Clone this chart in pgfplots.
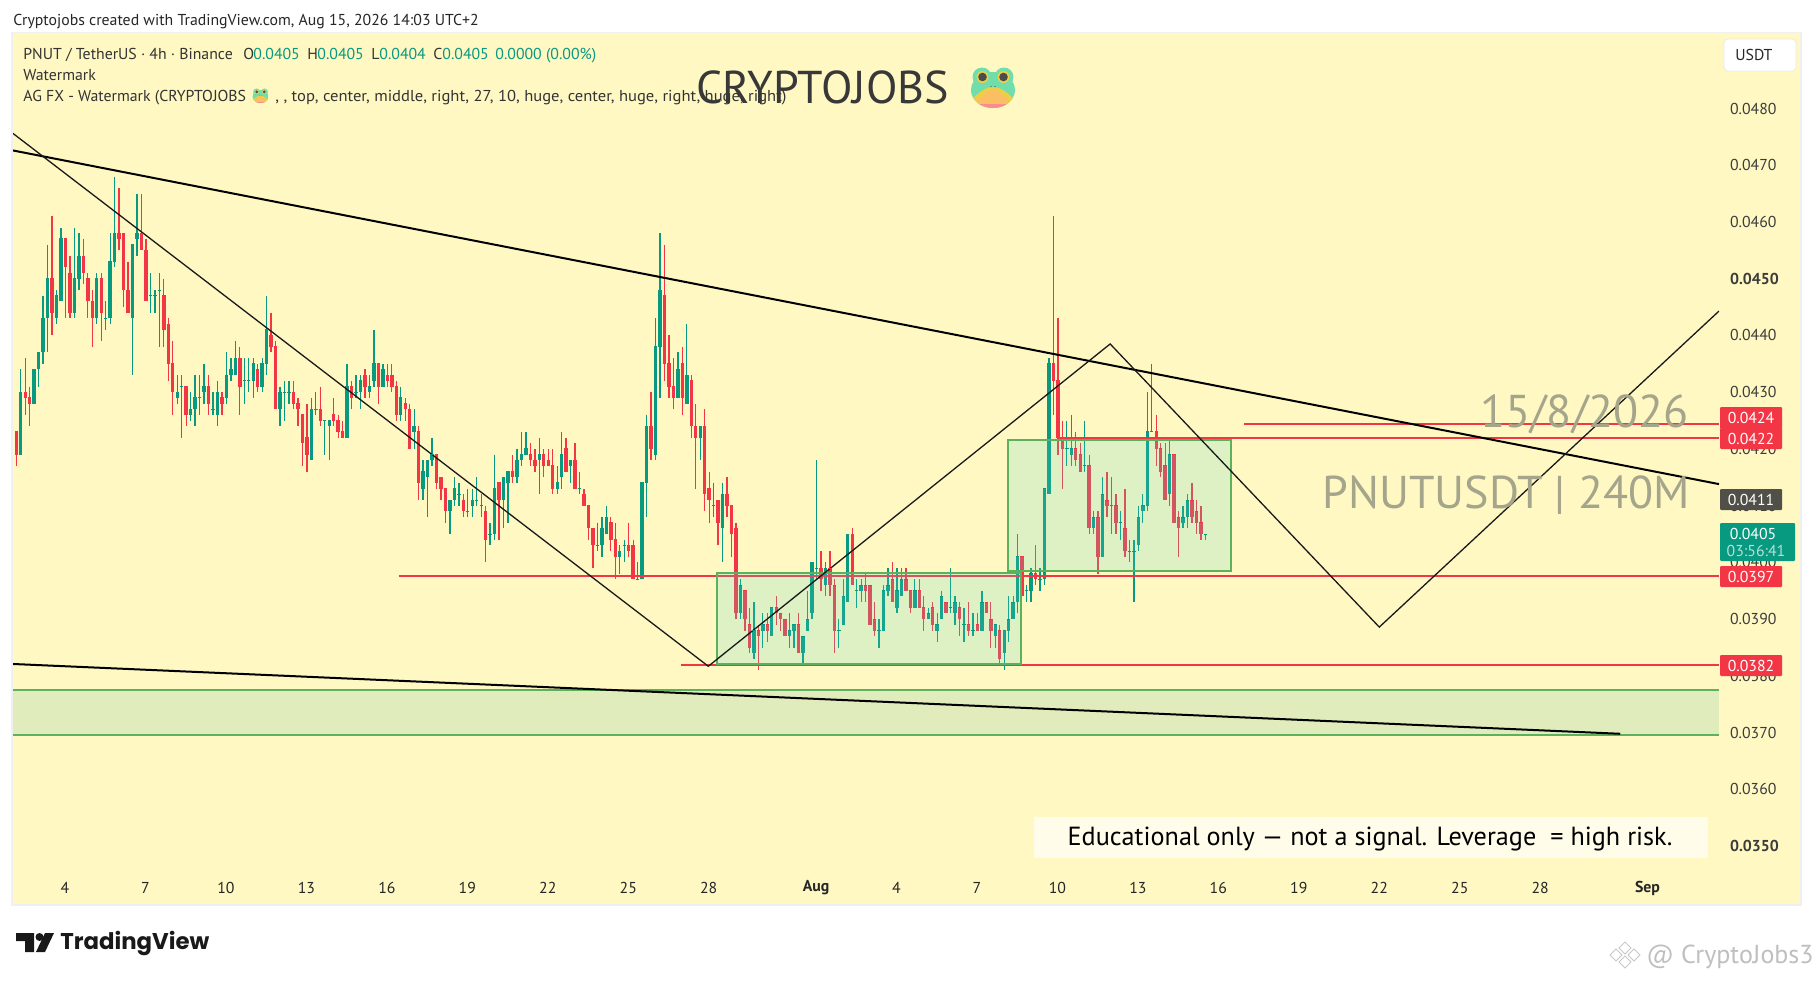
\documentclass[border=0pt]{standalone}
\usepackage{fontspec}
\setmainfont{PT Sans}
\newfontfamily\logofont{Poppins}
\usepackage{pgfplots}
\usepackage{pgfplotstable}
\pgfplotsset{compat=1.18}

\definecolor{bgyellow}{RGB}{255,248,195}
\definecolor{tvgreen}{RGB}{8,153,129}
\definecolor{tvred}{RGB}{242,54,69}
\definecolor{boxline}{RGB}{92,178,92}
\definecolor{boxfill}{RGB}{90,213,200}
\definecolor{zonefill}{RGB}{224,236,188}
\definecolor{wmgray}{RGB}{165,165,140}
\definecolor{ticktext}{RGB}{60,60,60}
\definecolor{lasttag}{RGB}{80,80,72}
\definecolor{frogmint}{RGB}{112,222,170}
\definecolor{frogyellow}{RGB}{240,205,70}
\definecolor{frogorange}{RGB}{250,190,100}
\definecolor{frogpink}{RGB}{250,140,140}

% bar  open  high  low  close, one row per 4h candle
\pgfplotstableread{
i O H L C
2 0.0419 0.0434 0.0419 0.0430
5 0.0428 0.0434 0.0428 0.0434
6 0.0434 0.0437 0.0431 0.0437
7 0.0437 0.0447 0.0435 0.0443
8 0.0443 0.0456 0.0437 0.0450
10 0.0443 0.0448 0.0442 0.0447
11 0.0446 0.0459 0.0446 0.0457
14 0.0444 0.0459 0.0443 0.0450
15 0.0450 0.0458 0.0448 0.0454
19 0.0443 0.0451 0.0442 0.0450
21 0.0443 0.0446 0.0441 0.0443
22 0.0443 0.0458 0.0442 0.0453
23 0.0453 0.0468 0.0452 0.0458
27 0.0443 0.0456 0.0433 0.0456
28 0.0457 0.0465 0.0454 0.0458
31 0.0447 0.0451 0.0444 0.0447
32 0.0447 0.0448 0.0444 0.0447
33 0.0448 0.0451 0.0438 0.0448
37 0.0429 0.0433 0.0428 0.0430
38 0.0431 0.0433 0.0422 0.0431
40 0.0426 0.0430 0.0425 0.0427
41 0.0427 0.0433 0.0424 0.0429
42 0.0429 0.0433 0.0426 0.0429
43 0.0430 0.0435 0.0428 0.0431
45 0.0427 0.0430 0.0426 0.0427
46 0.0426 0.0432 0.0424 0.0430
48 0.0429 0.0437 0.0428 0.0433
49 0.0433 0.0436 0.0432 0.0434
50 0.0433 0.0439 0.0433 0.0436
52 0.0432 0.0436 0.0428 0.0432
53 0.0432 0.0436 0.0430 0.0432
54 0.0432 0.0436 0.0429 0.0435
56 0.0431 0.0436 0.0430 0.0435
57 0.0435 0.0447 0.0433 0.0441
60 0.0427 0.0431 0.0424 0.0430
61 0.0430 0.0432 0.0425 0.0430
62 0.0430 0.0432 0.0428 0.0430
67 0.0418 0.0429 0.0418 0.0427
68 0.0427 0.0430 0.0426 0.0427
70 0.0425 0.0425 0.0419 0.0425
71 0.0424 0.0425 0.0418 0.0425
75 0.0422 0.0435 0.0422 0.0431
77 0.0430 0.0433 0.0429 0.0430
78 0.0430 0.0433 0.0427 0.0432
80 0.0430 0.0433 0.0429 0.0431
81 0.0432 0.0441 0.0431 0.0435
83 0.0431 0.0435 0.0431 0.0434
87 0.0426 0.0431 0.0425 0.0429
90 0.0423 0.0427 0.0420 0.0424
92 0.0413 0.0418 0.0411 0.0416
93 0.0415 0.0418 0.0408 0.0418
94 0.0418 0.0422 0.0417 0.0419
98 0.0409 0.0411 0.0405 0.0411
99 0.0411 0.0415 0.0410 0.0413
100 0.0412 0.0414 0.0410 0.0412
102 0.0409 0.0413 0.0408 0.0409
103 0.0410 0.0413 0.0408 0.0411
104 0.0411 0.0415 0.0410 0.0411
105 0.0410 0.0412 0.0408 0.0410
107 0.0405 0.0407 0.0403 0.0405
108 0.0405 0.0419 0.0404 0.0413
110 0.0411 0.0415 0.0406 0.0415
111 0.0414 0.0416 0.0407 0.0416
113 0.0415 0.0420 0.0414 0.0418
114 0.0418 0.0423 0.0417 0.0419
115 0.0419 0.0423 0.0419 0.0420
118 0.0418 0.0422 0.0412 0.0419
122 0.0413 0.0417 0.0412 0.0414
123 0.0415 0.0423 0.0413 0.0419
125 0.0417 0.0418 0.0414 0.0418
127 0.0413 0.0416 0.0412 0.0413
131 0.0403 0.0407 0.0402 0.0403
132 0.0403 0.0408 0.0401 0.0406
133 0.0405 0.0410 0.0405 0.0408
136 0.0401 0.0403 0.0398 0.0402
137 0.0403 0.0404 0.0400 0.0403
140 0.0397 0.0400 0.0397 0.0397
141 0.0397 0.0414 0.0397 0.0414
142 0.0414 0.0426 0.0408 0.0424
144 0.0419 0.0443 0.0418 0.0438
145 0.0438 0.0458 0.0429 0.0448
149 0.0429 0.0437 0.0429 0.0434
151 0.0428 0.0442 0.0428 0.0433
154 0.0422 0.0424 0.0418 0.0424
157 0.0410 0.0414 0.0408 0.0410
159 0.0406 0.0414 0.0400 0.0412
163 0.0391 0.0397 0.0390 0.0396
166 0.0384 0.0393 0.0383 0.0388
168 0.0388 0.0391 0.0385 0.0389
170 0.0387 0.0392 0.0387 0.0392
174 0.0387 0.0391 0.0385 0.0388
175 0.0388 0.0389 0.0385 0.0389
177 0.0384 0.0387 0.0382 0.0387
178 0.0388 0.0395 0.0388 0.0390
179 0.0391 0.0400 0.0390 0.0400
180 0.0399 0.0418 0.0397 0.0399
182 0.0396 0.0400 0.0394 0.0399
185 0.0388 0.0390 0.0385 0.0388
186 0.0389 0.0397 0.0389 0.0394
187 0.0393 0.0405 0.0393 0.0405
189 0.0395 0.0397 0.0392 0.0395
190 0.0395 0.0397 0.0393 0.0396
194 0.0388 0.0390 0.0385 0.0388
195 0.0388 0.0396 0.0388 0.0395
196 0.0395 0.0399 0.0394 0.0396
198 0.0392 0.0399 0.0391 0.0395
199 0.0394 0.0399 0.0394 0.0397
202 0.0392 0.0397 0.0392 0.0395
205 0.0390 0.0392 0.0390 0.0391
207 0.0388 0.0391 0.0386 0.0389
208 0.0390 0.0395 0.0390 0.0394
210 0.0392 0.0399 0.0391 0.0392
211 0.0391 0.0394 0.0389 0.0393
213 0.0389 0.0392 0.0386 0.0389
215 0.0388 0.0391 0.0387 0.0388
217 0.0388 0.0395 0.0388 0.0393
220 0.0387 0.0389 0.0385 0.0389
222 0.0384 0.0388 0.0381 0.0388
223 0.0388 0.0394 0.0386 0.0390
224 0.0390 0.0394 0.0390 0.0393
225 0.0393 0.0405 0.0391 0.0401
227 0.0395 0.0396 0.0393 0.0395
228 0.0395 0.0399 0.0393 0.0398
230 0.0397 0.0399 0.0395 0.0397
231 0.0397 0.0413 0.0396 0.0413
232 0.0412 0.0436 0.0412 0.0435
236 0.0420 0.0425 0.0417 0.0420
237 0.0419 0.0426 0.0417 0.0420
240 0.0417 0.0425 0.0416 0.0417
242 0.0406 0.0409 0.0405 0.0408
244 0.0401 0.0415 0.0401 0.0412
246 0.0410 0.0415 0.0405 0.0410
248 0.0407 0.0409 0.0404 0.0407
250 0.0402 0.0404 0.0400 0.0402
251 0.0402 0.0404 0.0393 0.0402
252 0.0403 0.0410 0.0402 0.0408
253 0.0409 0.0412 0.0407 0.0410
254 0.0410 0.0430 0.0409 0.0423
255 0.0423 0.0435 0.0423 0.0423
259 0.0412 0.0422 0.0410 0.0419
262 0.0407 0.0410 0.0406 0.0408
263 0.0408 0.0412 0.0406 0.0411
267 0.0405 0.0405 0.0404 0.0405
}\upbars

\pgfplotstableread{
i O H L C
1 0.0423 0.0423 0.0417 0.0419
3 0.0430 0.0436 0.0426 0.0429
4 0.0429 0.0431 0.0424 0.0428
9 0.0450 0.0461 0.0440 0.0444
12 0.0457 0.0457 0.0443 0.0452
13 0.0451 0.0454 0.0443 0.0444
16 0.0454 0.0457 0.0449 0.0451
17 0.0450 0.0451 0.0443 0.0446
18 0.0446 0.0448 0.0438 0.0443
20 0.0450 0.0451 0.0439 0.0444
24 0.0458 0.0466 0.0455 0.0457
25 0.0458 0.0458 0.0445 0.0448
26 0.0448 0.0453 0.0444 0.0444
29 0.0458 0.0465 0.0455 0.0455
30 0.0455 0.0457 0.0446 0.0446
34 0.0447 0.0450 0.0438 0.0441
35 0.0442 0.0443 0.0432 0.0435
36 0.0435 0.0439 0.0426 0.0430
39 0.0431 0.0431 0.0424 0.0426
44 0.0431 0.0433 0.0426 0.0428
47 0.0429 0.0430 0.0426 0.0428
51 0.0436 0.0438 0.0426 0.0431
55 0.0434 0.0435 0.0430 0.0431
58 0.0440 0.0444 0.0437 0.0438
59 0.0438 0.0439 0.0427 0.0427
63 0.0430 0.0432 0.0427 0.0428
64 0.0428 0.0429 0.0424 0.0427
65 0.0426 0.0426 0.0417 0.0421
66 0.0422 0.0428 0.0416 0.0419
69 0.0427 0.0431 0.0424 0.0425
72 0.0426 0.0429 0.0424 0.0425
73 0.0425 0.0426 0.0422 0.0423
74 0.0423 0.0425 0.0422 0.0422
76 0.0431 0.0432 0.0427 0.0429
79 0.0433 0.0434 0.0429 0.0431
82 0.0435 0.0435 0.0428 0.0431
84 0.0433 0.0435 0.0431 0.0432
85 0.0433 0.0435 0.0430 0.0431
86 0.0431 0.0432 0.0425 0.0426
88 0.0428 0.0429 0.0425 0.0427
89 0.0427 0.0428 0.0420 0.0420
91 0.0423 0.0424 0.0411 0.0414
95 0.0419 0.0419 0.0413 0.0414
96 0.0415 0.0415 0.0411 0.0413
97 0.0413 0.0413 0.0407 0.0409
101 0.0411 0.0412 0.0408 0.0409
106 0.0409 0.0410 0.0400 0.0404
109 0.0414 0.0414 0.0404 0.0411
112 0.0416 0.0419 0.0414 0.0415
116 0.0419 0.0421 0.0417 0.0418
117 0.0418 0.0420 0.0416 0.0417
119 0.0419 0.0420 0.0415 0.0417
120 0.0418 0.0420 0.0417 0.0417
121 0.0417 0.0420 0.0412 0.0413
124 0.0420 0.0422 0.0416 0.0416
126 0.0418 0.0421 0.0413 0.0413
128 0.0412 0.0413 0.0410 0.0410
129 0.0410 0.0410 0.0404 0.0406
130 0.0406 0.0406 0.0399 0.0403
134 0.0407 0.0408 0.0402 0.0404
135 0.0404 0.0407 0.0397 0.0401
138 0.0403 0.0407 0.0401 0.0402
139 0.0403 0.0404 0.0397 0.0397
143 0.0424 0.0430 0.0418 0.0420
146 0.0447 0.0456 0.0432 0.0435
147 0.0435 0.0440 0.0429 0.0431
148 0.0431 0.0436 0.0427 0.0429
150 0.0435 0.0438 0.0426 0.0429
152 0.0432 0.0433 0.0422 0.0424
153 0.0424 0.0428 0.0413 0.0422
155 0.0424 0.0427 0.0409 0.0412
156 0.0413 0.0416 0.0407 0.0411
158 0.0411 0.0411 0.0403 0.0407
160 0.0412 0.0415 0.0408 0.0410
161 0.0410 0.0410 0.0401 0.0405
162 0.0406 0.0407 0.0390 0.0391
164 0.0395 0.0395 0.0388 0.0390
165 0.0389 0.0392 0.0384 0.0385
167 0.0388 0.0389 0.0381 0.0387
169 0.0389 0.0391 0.0386 0.0388
171 0.0392 0.0394 0.0389 0.0391
172 0.0391 0.0391 0.0388 0.0390
173 0.0390 0.0390 0.0387 0.0387
176 0.0389 0.0391 0.0384 0.0384
181 0.0399 0.0402 0.0395 0.0397
183 0.0399 0.0402 0.0394 0.0396
184 0.0396 0.0397 0.0384 0.0388
188 0.0405 0.0406 0.0396 0.0396
191 0.0396 0.0398 0.0393 0.0395
192 0.0396 0.0396 0.0389 0.0389
193 0.0390 0.0393 0.0387 0.0388
197 0.0397 0.0400 0.0393 0.0393
200 0.0397 0.0399 0.0395 0.0395
201 0.0395 0.0395 0.0391 0.0392
203 0.0395 0.0397 0.0392 0.0392
204 0.0392 0.0394 0.0388 0.0390
206 0.0392 0.0393 0.0388 0.0389
209 0.0393 0.0393 0.0391 0.0391
212 0.0392 0.0393 0.0387 0.0390
214 0.0389 0.0393 0.0387 0.0388
216 0.0389 0.0391 0.0388 0.0388
218 0.0393 0.0393 0.0391 0.0391
219 0.0390 0.0393 0.0385 0.0388
221 0.0388 0.0389 0.0382 0.0383
226 0.0401 0.0401 0.0394 0.0394
229 0.0398 0.0403 0.0396 0.0397
233 0.0435 0.0461 0.0426 0.0432
234 0.0432 0.0443 0.0419 0.0422
235 0.0422 0.0425 0.0413 0.0420
238 0.0420 0.0423 0.0417 0.0418
239 0.0419 0.0421 0.0416 0.0416
241 0.0417 0.0419 0.0405 0.0406
243 0.0408 0.0409 0.0398 0.0401
245 0.0411 0.0416 0.0408 0.0410
247 0.0410 0.0412 0.0405 0.0407
249 0.0406 0.0413 0.0401 0.0402
256 0.0423 0.0426 0.0417 0.0420
257 0.0420 0.0421 0.0415 0.0416
258 0.0417 0.0421 0.0411 0.0411
260 0.0419 0.0419 0.0407 0.0407
261 0.0408 0.0409 0.0401 0.0406
264 0.0411 0.0414 0.0407 0.0408
265 0.0409 0.0411 0.0405 0.0407
266 0.0407 0.0410 0.0404 0.0405
}\downbars

\pgfplotsset{
  wick/.style={draw=none,mark=none,forget plot,
    error bars/.cd,y dir=minus,y explicit,error mark=none,
    error bar style={solid,draw=#1,line width=.65pt}},
  body/.style={only marks,mark=-,mark size=.85pt,forget plot,
    mark options={draw=#1,line width=.5pt},
    error bars/.cd,y dir=minus,y explicit,error mark=none,
    error bar style={solid,draw=#1,line width=1.7pt}},
}

% text at a baseline in reference pixels
\newcommand{\txt}[4]{\node[anchor=base west,inner sep=0,text=#1,font=\fontsize{7.9}{9}\selectfont] at (#2,#3) {#4};}
% price tag on the scale
\newcommand{\pricetag}[6]{\fill[#1,rounded corners=.5pt] (#2,#3) rectangle (#4,#5);
  \node[text=white,inner sep=0,font=\fontsize{7.9}{9}\selectfont] at ({(#2+1782)/2},{(#3+#5)/2}) {#6};}
% the frog, about 44 px wide at scale 1
\newcommand{\frog}[3]{\begin{scope}[shift={(#1,#2)},scale=#3]
  \fill[frogmint] (-11,-10) circle (9.5) (11,-10) circle (9.5);
  \begin{scope}
    \path[clip] (0,3) ellipse (22 and 18);
    \fill[frogmint] (-23,-16) rectangle (23,22);
    \fill[frogyellow] (-23,14) .. controls (-12,3) and (-6,0) .. (0,0) .. controls (6,0) and (12,3) .. (23,14) -- (23,22) -- (-23,22) -- cycle;
    \fill[frogorange] (-17,22) -- (-15,13) .. controls (-8,6) and (-3,3) .. (0,3) .. controls (3,3) and (8,6) .. (15,13) -- (17,22) -- cycle;
    \fill[frogpink] (-23,17) rectangle (23,22);
  \end{scope}
  \fill[frogyellow] (-10.5,-10) circle (6) (10.5,-10) circle (6);
  \fill[black!70] (-10.5,-10) circle (4.3) (10.5,-10) circle (4.3);
  \fill[black!70] (-2,-.5) circle (.7) (2,-.5) circle (.7);
\end{scope}}

\begin{document}
\begin{tikzpicture}[x=0.5pt,y=-0.5pt]
\useasboundingbox (0,0) rectangle (1814,980);
\fill[white] (0,0) rectangle (1814,980);
\fill[black!6] (11,32) rectangle (1802,906);
\fill[bgyellow] (13,33) rectangle (1800,904);

\begin{axis}[
  at={(6.5pt,-452pt)},anchor=south west,
  scale only axis,width=853pt,height=435.5pt,
  xmin=0.262,xmax=381.9,
  ymin=0.03398,ymax=0.04933,
  axis line style={draw=none},
  tick style={draw=none},
  major tick length=0pt,
  yticklabel pos=right,
  scaled y ticks=false,
  ytick={0.035,0.036,0.037,0.038,0.039,0.040,0.041,0.042,0.043,0.044,0.045,0.046,0.047,0.048},
  yticklabels={\textbf{0.0350},0.0360,0.0370,0.0380,0.0390,0.0400,0.0410,0.0420,0.0430,0.0440,\textbf{0.0450},0.0460,0.0470,0.0480},
  yticklabel style={anchor=west,xshift=2pt,text=ticktext,font=\fontsize{7.9}{9}\selectfont},
  xtick={11.9,29.9,47.9,65.9,83.9,101.9,119.9,137.9,155.9,179.9,197.9,215.9,233.9,251.9,269.9,287.9,305.9,323.9,341.9,365.9},
  xticklabels={4,7,10,13,16,19,22,25,28,\textbf{Aug},4,7,10,13,16,19,22,25,28,\textbf{Sep}},
  xticklabel style={anchor=center,yshift=8pt,text=black!85,font=\fontsize{7.9}{9}\selectfont},
]
% support zone under everything
\addplot[draw=none,fill=zonefill,forget plot] coordinates {(0.262,0.03775) (381.9,0.03775) (381.9,0.03696) (0.262,0.03696)} --cycle;
\addplot[boxline,line width=.8pt,forget plot] coordinates {(0.262,0.03775) (381.9,0.03775)};
\addplot[boxline,line width=.8pt,forget plot] coordinates {(0.262,0.03696) (381.9,0.03696)};

% candles
\addplot[wick=tvgreen] table[x=i,y=H,y error minus expr=\thisrow{H}-\thisrow{L}] {\upbars};
\addplot[body=tvgreen] table[x=i,y=C,y error minus expr=\thisrow{C}-\thisrow{O}] {\upbars};
\addplot[wick=tvred] table[x=i,y=H,y error minus expr=\thisrow{H}-\thisrow{L}] {\downbars};
\addplot[body=tvred] table[x=i,y=O,y error minus expr=\thisrow{O}-\thisrow{C}] {\downbars};

% levels
\addplot[tvred,line width=.9pt,forget plot] coordinates {(86.6,0.03976) (381.9,0.03976)};
\addplot[tvred,line width=.9pt,forget plot] coordinates {(149.7,0.03819) (381.9,0.03819)};
\addplot[tvred,line width=.9pt,forget plot] coordinates {(275.6,0.04244) (381.9,0.04244)};
\addplot[tvred,line width=.9pt,forget plot] coordinates {(233.8,0.04219) (381.9,0.04219)};

% consolidation boxes
\addplot[draw=boxline,fill=boxfill,fill opacity=.2,line width=1pt,forget plot] coordinates {(157.7,0.03982) (225.7,0.03982) (225.7,0.03821) (157.7,0.03821)} --cycle;
\addplot[draw=boxline,fill=boxfill,fill opacity=.2,line width=1pt,forget plot] coordinates {(222.8,0.04216) (272.7,0.04216) (272.7,0.03985) (222.8,0.03985)} --cycle;

% trend lines and projected path
\addplot[black,line width=1pt,forget plot] coordinates {(0.262,0.04726) (381.9,0.04138)};
\addplot[black,line width=1pt,forget plot] coordinates {(0.262,0.03821) (359.8,0.03698)};
\addplot[black!90,line width=.65pt,forget plot] coordinates {(0.262,0.04756) (155.8,0.03817) (245.7,0.04385) (305.9,0.03886) (381.9,0.04443)};
\end{axis}

% header and legend
\txt{black!85}{13}{25}{Cryptojobs created with TradingView.com, Aug 15, 2026 14:03 UTC+2}
\txt{black!80}{23}{59}{PNUT / TetherUS · 4h · Binance}
\txt{black!80}{243}{59}{O}\txt{tvgreen}{253}{59}{0.0405}
\txt{black!80}{307}{59}{H}\txt{tvgreen}{317}{59}{0.0405}
\txt{black!80}{371}{59}{L}\txt{tvgreen}{379}{59}{0.0404}
\txt{black!80}{433}{59}{C}\txt{tvgreen}{442}{59}{0.0405}
\txt{tvgreen}{495}{59}{0.0000 (0.00\%)}
\txt{black!80}{23}{80}{Watermark}
\txt{black!80}{23}{101}{AG FX - Watermark (CRYPTOJOBS}
\frog{260.5}{95.5}{.36}
\txt{black!80}{275}{101}{\scalebox{1.05}[1]{, , top, center, middle, right, 27, 10, huge, center, huge, right, huge, right)}}

% watermark texts
\node[anchor=base west,inner sep=0,text=black!78,font=\fontsize{23}{27}\selectfont] at (696,103) {CRYPTOJOBS};
\frog{993}{87}{1}
\node[anchor=base east,inner sep=0,text=wmgray,font=\fontsize{23}{27}\selectfont] at (1689,427) {15/8/2026};
\node[anchor=base east,inner sep=0,text=wmgray,font=\fontsize{23}{27}\selectfont] at (1690,508) {PNUTUSDT | 240M};

% note box
\fill[white,fill opacity=.65] (1034,817) rectangle (1708,858);
\node[anchor=base,inner sep=0,text=black,font=\fontsize{13.1}{15}\selectfont] at (1370,845) {Educational only — not a signal. Leverage \ = high risk.};

% price scale tags
\fill[white,rounded corners=2pt] (1724,39) rectangle (1796,71);
\draw[black!8,rounded corners=2pt,line width=.4pt] (1724,39) rectangle (1796,71);
\node[anchor=west,inner sep=0,text=black!85,font=\fontsize{7.9}{9}\selectfont] at (1735,55) {USDT};
\pricetag{tvred}{1720}{407}{1782}{429}{0.0424}
\pricetag{tvred}{1720}{428}{1782}{449}{0.0422}
\pricetag{lasttag}{1720}{489}{1782}{510}{0.0411}
\fill[tvgreen,rounded corners=.5pt] (1720,523) rectangle (1795,561);
\node[text=white,inner sep=0,font=\fontsize{7.9}{9}\selectfont] at (1753,534) {0.0405};
\node[text=white!70!tvgreen,inner sep=0,font=\fontsize{7.9}{9}\selectfont] at (1756,551) {03:56:41};
\pricetag{tvred}{1720}{566}{1782}{587}{0.0397}
\pricetag{tvred}{1720}{655}{1782}{676}{0.0382}

% TradingView logo
\fill[black!90] (16,933) -- (34,933) -- (34,952) -- (25,952) -- (25,941) -- (16,941) -- cycle;
\fill[black!90] (39.5,937) circle (4);
\fill[black!90] (45,933) -- (54,933) -- (45,952) -- (36,952) -- cycle;
\node[anchor=base west,inner sep=0,text=black!90,font=\logofont\bfseries\fontsize{11.4}{14}\selectfont] at (60,949) {TradingView};

% site watermark
\begin{scope}[black!22,line width=.5pt]
  \draw (1625,942) -- (1631,948) -- (1625,954) -- (1619,948) -- cycle;
  \draw (1625,956) -- (1631,962) -- (1625,968) -- (1619,962) -- cycle;
  \draw (1616,949) -- (1622,955) -- (1616,961) -- (1610,955) -- cycle;
  \draw (1634,949) -- (1640,955) -- (1634,961) -- (1628,955) -- cycle;
\end{scope}
\node[anchor=base west,inner sep=0,text=black!25,font=\fontsize{13}{15}\selectfont] at (1646,963) {@ CryptoJobs3};
\end{tikzpicture}
\end{document}
